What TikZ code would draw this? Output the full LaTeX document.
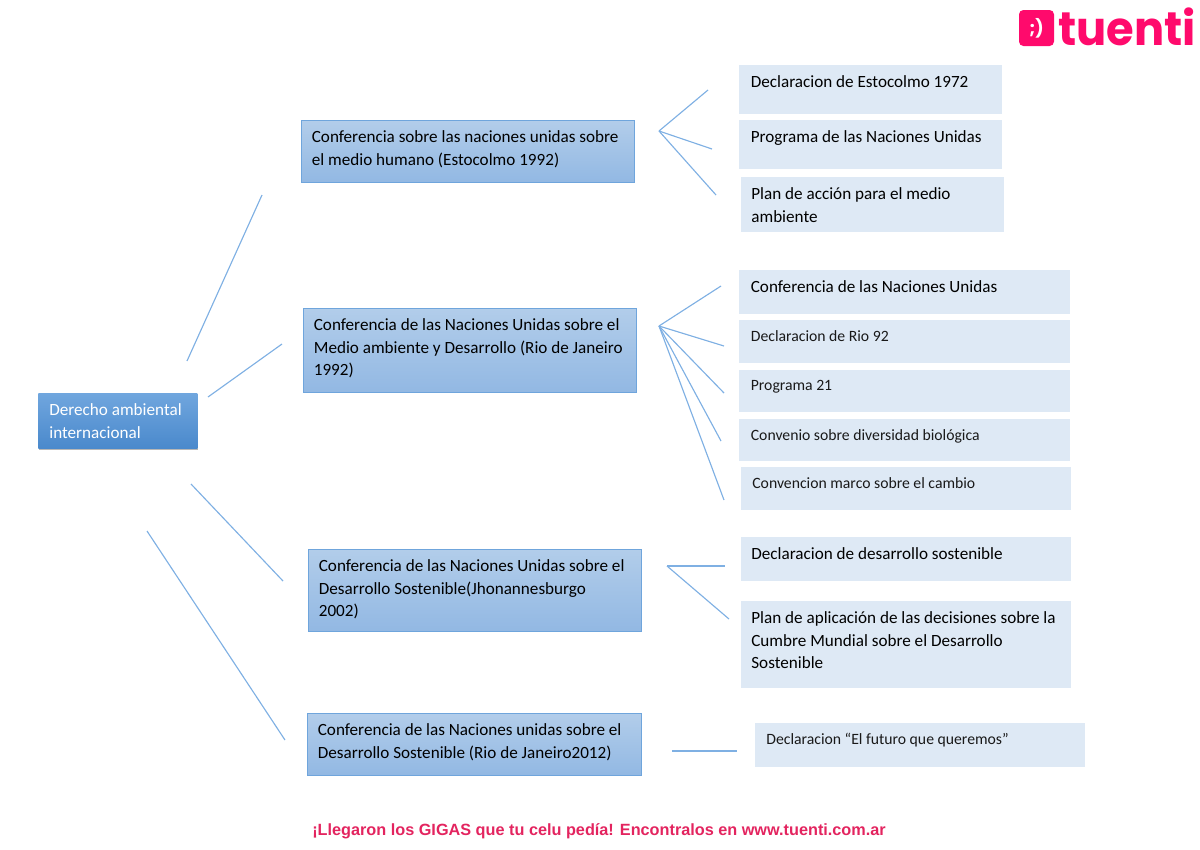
\documentclass[tikz,border=0pt]{standalone}
\usepackage{fontspec}
\setmainfont{Carlito}
\newfontfamily\footfont{Liberation Sans}
\newfontfamily\logofont{Poppins}
\usetikzlibrary{calc}
\usetikzlibrary{shadows}
\definecolor{linkblue}{HTML}{7FB0E3}
\definecolor{leafblue}{HTML}{DEE9F5}
\definecolor{confedge}{HTML}{6FA5DC}
\definecolor{conftop}{HTML}{B2CDEA}
\definecolor{confbot}{HTML}{92B8E3}
\definecolor{roottop}{HTML}{70A6DE}
\definecolor{rootbot}{HTML}{4A89CC}
\definecolor{tuentipink}{HTML}{FF0A6C}
\definecolor{footpink}{HTML}{E3245F}
\tikzset{
  rootbox/.style={anchor=north west,top color=roottop,bottom color=rootbot,draw=none,drop shadow={shadow xshift=0.5pt,shadow yshift=-1.2pt,opacity=0.4,fill=black!70}},
  confbox/.style={anchor=north west,top color=conftop,bottom color=confbot,draw=confedge,line width=0.5pt},
  leafbox/.style={anchor=north west,fill=leafblue},
  bigtext/.style={anchor=north west,inner sep=0pt,align=left,text=black,font=\fontsize{9.75}{13}\selectfont},
  smalltext/.style={anchor=north west,inner sep=0pt,align=left,text=black!90,font=\fontsize{8.95}{13}\selectfont},
  roottext/.style={bigtext,text=white},
  link/.style={draw=linkblue,line width=0.65pt}
}
\begin{document}
\begin{tikzpicture}[x=0.02cm,y=-0.02cm]
\useasboundingbox (0,0) rectangle (1200,849);
% main box and conferences
\node[rootbox,minimum width=159*0.02cm,minimum height=55*0.02cm] (derecho) at (38,393) {};
\node[roottext] (derecho-t) at ([shift={(11,10)}]derecho.north west) {Derecho ambiental\\internacional};
\foreach \nm/\x/\y/\w/\h/\txt in {
  estocolmo/301/120/333/62/{Conferencia sobre las naciones unidas sobre\\el medio humano (Estocolmo 1992)},
  rio/303/308/333/84/{Conferencia de las Naciones Unidas sobre el\\Medio ambiente y Desarrollo (Rio de Janeiro\\1992)},
  jhon/308/549/333/82/{Conferencia de las Naciones Unidas sobre el\\Desarrollo Sostenible(Jhonannesburgo\\2002)},
  riodoce/307/713/334/62/{Conferencia de las Naciones unidas sobre el\\Desarrollo Sostenible (Rio de Janeiro2012)}}
{
\node[confbox,minimum width=\w*0.02cm,minimum height=\h*0.02cm] (\nm) at (\x,\y) {};
\node[bigtext] (\nm-t) at ([shift={(10.5,10)}]\nm.north west) {\txt};
}
% right hand boxes
\foreach \nm/\x/\y/\w/\h/\st/\dx/\txt in {
  decl/739/65/263/49/bigtext/11.5/{Declaracion de Estocolmo 1972},
  prog/739/120/263/49/bigtext/11.5/{Programa de las Naciones Unidas},
  plan/741/177/263/55/bigtext/10/{Plan de acción para el medio\\ambiente},
  conf/739/270/331/44/bigtext/11.5/{Conferencia de las Naciones Unidas},
  declrio/739/320/331/43/smalltext/11.5/{Declaracion de Rio 92},
  progv/739/370/331/42/smalltext/11.5/{Programa 21},
  conv/739/419/331/42/smalltext/11.5/{Convenio sobre diversidad biológica},
  marco/741/467/330/43/smalltext/11/{Convencion marco sobre el cambio},
  desa/741/537/330/44/bigtext/10/{Declaracion de desarrollo sostenible},
  aplic/741/601/330/87/bigtext/10/{Plan de aplicación de las decisiones sobre la\\Cumbre Mundial sobre el Desarrollo\\Sostenible},
  futuro/755/723/330/44/smalltext/11/{Declaracion “El futuro que queremos”}}
{
\node[leafbox,minimum width=\w*0.02cm,minimum height=\h*0.02cm] (\nm) at (\x,\y) {};
\node[\st] (\nm-t) at ([shift={(\dx,10)}]\nm.north west) {\txt};
}
% lines left
\foreach \nm/\ax/\ay/\bx/\by in {la/187/361/262/195,lb/208/397/282/344,lc/191/484/283/581,ld/147/531/285/740}
{
\coordinate (\nm-s) at (\ax,\ay);
\coordinate (\nm-e) at (\bx,\by);
\draw[link] (\nm-s) -- (\nm-e);
}
% fans
\coordinate (fana) at (659,131);
\coordinate (fanb) at (659,326);
\coordinate (fanc) at (667,566);
\coordinate (fand) at (672,751);
\foreach \nm/\fan/\x/\y in {ea/fana/708/90,eb/fana/712/149,ec/fana/716/195,ra/fanb/721/286,rb/fanb/724/346,rc/fanb/724/393,rd/fanb/721/441,re/fanb/724/500,ja/fanc/725/566,jb/fanc/729/619,fa/fand/737/751}
{
\coordinate (\nm) at (\x,\y);
\draw[link] (\fan) -- (\nm);
}
% logo and footer
\node[fill=tuentipink,rounded corners=2.5pt,minimum width=35*0.02cm,minimum height=36*0.02cm,inner sep=0pt,text=white,font=\logofont\bfseries\fontsize{10}{10}\selectfont] (logobox) at (1036.5,28) {;)};
\node[anchor=base west,inner sep=0pt,text=tuentipink,font=\logofont\bfseries\fontsize{25.5}{26}\selectfont] (logotext) at (1058,45) {\scalebox{1}[1.05]{tuenti}};
\node[inner sep=0pt,text=footpink,font=\footfont\bfseries\fontsize{9.25}{12}\selectfont] (foot) at (599,831) {¡Llegaron los GIGAS que tu celu pedía! Encontralos en www.tuenti.com.ar};
\end{tikzpicture}
\end{document}
